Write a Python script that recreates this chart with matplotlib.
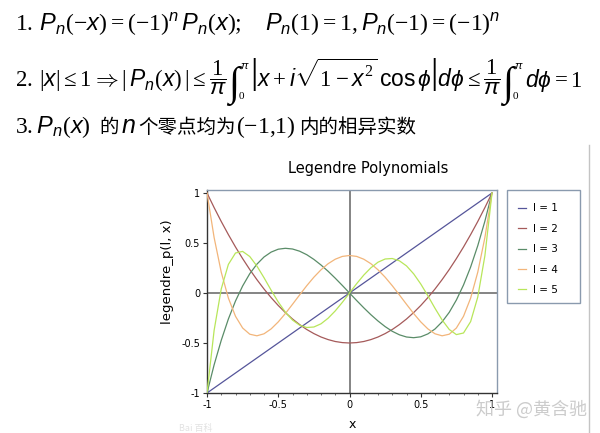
import matplotlib
matplotlib.use("Agg")
import matplotlib.pyplot as plt
from matplotlib.lines import Line2D
from matplotlib.patches import Rectangle

# значення (крок 0.05)
x_vals = [-1.0, -0.95, -0.9, -0.85, -0.8, -0.75, -0.7, -0.65, -0.6, -0.55, -0.5,
          -0.45, -0.4, -0.35, -0.3, -0.25, -0.2, -0.15, -0.1, -0.05, 0.0,
          0.05, 0.1, 0.15, 0.2, 0.25, 0.3, 0.35, 0.4, 0.45, 0.5,
          0.55, 0.6, 0.65, 0.7, 0.75, 0.8, 0.85, 0.9, 0.95, 1.0]
p1 = [-1.0, -0.95, -0.9, -0.85, -0.8, -0.75, -0.7, -0.65, -0.6, -0.55, -0.5,
      -0.45, -0.4, -0.35, -0.3, -0.25, -0.2, -0.15, -0.1, -0.05, 0.0,
      0.05, 0.1, 0.15, 0.2, 0.25, 0.3, 0.35, 0.4, 0.45, 0.5,
      0.55, 0.6, 0.65, 0.7, 0.75, 0.8, 0.85, 0.9, 0.95, 1.0]
p2 = [1.0, 0.854, 0.715, 0.584, 0.46, 0.344, 0.235, 0.134, 0.04, -0.046, -0.125,
      -0.196, -0.26, -0.316, -0.365, -0.406, -0.44, -0.466, -0.485, -0.496, -0.5,
      -0.496, -0.485, -0.466, -0.44, -0.406, -0.365, -0.316, -0.26, -0.196, -0.125,
      -0.046, 0.04, 0.134, 0.235, 0.344, 0.46, 0.584, 0.715, 0.854, 1.0]
p3 = [-1.0, -0.718, -0.473, -0.26, -0.08, 0.07, 0.193, 0.288, 0.36, 0.409, 0.438,
      0.447, 0.44, 0.418, 0.383, 0.336, 0.28, 0.217, 0.148, 0.075, 0.0,
      -0.075, -0.148, -0.217, -0.28, -0.336, -0.383, -0.418, -0.44, -0.447, -0.438,
      -0.409, -0.36, -0.288, -0.193, -0.07, 0.08, 0.26, 0.473, 0.718, 1.0]
p4 = [1.0, 0.554, 0.208, -0.051, -0.233, -0.35, -0.412, -0.428, -0.408, -0.359, -0.289,
      -0.205, -0.113, -0.019, 0.073, 0.158, 0.232, 0.293, 0.338, 0.366, 0.375,
      0.366, 0.338, 0.293, 0.232, 0.158, 0.073, -0.019, -0.113, -0.205, -0.289,
      -0.359, -0.408, -0.428, -0.412, -0.35, -0.233, -0.051, 0.208, 0.554, 1.0]
p5 = [-1.0, -0.373, 0.041, 0.286, 0.4, 0.416, 0.365, 0.27, 0.153, 0.028, -0.09,
      -0.192, -0.271, -0.322, -0.345, -0.34, -0.308, -0.252, -0.179, -0.093, 0.0,
      0.093, 0.179, 0.252, 0.308, 0.34, 0.345, 0.322, 0.271, 0.192, 0.09,
      -0.028, -0.153, -0.27, -0.365, -0.416, -0.4, -0.286, -0.041, 0.373, 1.0]

series_labels = ['l = 1', 'l = 2', 'l = 3', 'l = 4', 'l = 5']
series_colors = ['#55559a', '#a55a5a', '#5a8c68', '#f2b57a', '#b8e65a']
tick_vals = [-1, -0.5, 0, 0.5, 1]
tick_labels = ['-1', '-0.5', '0', '0.5', '1']

# шрифти для формул: цифри як Times, змінні як Arial italic
plt.rcParams['mathtext.fontset'] = 'custom'
plt.rcParams['mathtext.rm'] = 'Liberation Serif'
plt.rcParams['mathtext.it'] = 'Liberation Sans:italic'
plt.rcParams['mathtext.sf'] = 'Liberation Sans'
plt.rcParams['mathtext.bf'] = 'Liberation Sans:bold'

W, H = 600, 433
fig = plt.figure(figsize=(W / 100, H / 100), dpi=100)
fig.patch.set_facecolor('white')
cjk = ['Noto Sans CJK SC', 'DejaVu Sans']
serif = ['Liberation Serif', 'DejaVu Serif']


def put_row(pieces, x_px, base_px):
    # розставляємо шматки тексту один за одним по базовій лінії
    # (текст, розмір, шрифт, відступ після, зсув вниз, чи рухати x, зсув вправо)
    r = fig.canvas.get_renderer()
    x = x_px
    for s, size, fam, gap, dy, advance, dx in pieces:
        t = fig.text((x + dx) / W, 1 - (base_px + dy) / H, s, fontsize=size,
                     family=fam, va='baseline', ha='left', color='black')
        if advance:
            bb = t.get_window_extent(r)
            x = bb.x1 + gap


put_row([(r"$1.\,P_n(-x) = (-1)^n\, P_n(x);\quad P_n(1) = 1, P_n(-1) = (-1)^n$",
          17, cjk, 0, 0, True, 0)], 15, 31)

put_row([(r"$2.\,|x| \leq 1 \Rightarrow |\,P_n(x)\,| \leq \dfrac{1}{\pi}$", 16.5, cjk, 1, 0, True, 0),
         ("∫", 29, serif, 0, 8, True, 0),
         (r"$0$", 8, cjk, 0, 12, False, -1),
         (r"$\pi$", 8, cjk, 1, -18, True, 1),
         (r"$\left|x + i\sqrt{1-x^2}\,\mathsf{cos}\,\phi\right| d\phi \leq \dfrac{1}{\pi}$",
          16.5, cjk, 1, 0, True, 0),
         ("∫", 29, serif, 0, 8, True, 0),
         (r"$0$", 8, cjk, 0, 12, False, -1),
         (r"$\pi$", 8, cjk, 1, -18, True, 1),
         (r"$d\phi = 1$", 16.5, cjk, 0, 0, True, 0)], 15, 87)

put_row([(r"$3.P_n(x)$", 17, cjk, 9, 0, True, 0),
         ("的", 14, cjk, 2, 0, True, 0),
         (r"$n$", 18, cjk, 2, 0, True, 0),
         ("个零点均为", 14, cjk, 0, 0, True, 0),
         (r"$(-1{,}1)$", 17, cjk, 4, 0, True, 0),
         ("内的相异实数", 14, cjk, 0, 0, True, 0)], 15, 133)

# графік
ax = fig.add_axes([207 / W, 1 - 393 / H, 290 / W, 203 / H])
for ys, lab, col in zip([p1, p2, p3, p4, p5], series_labels, series_colors):
    ax.plot(x_vals, ys, color=col, lw=0.9, label=lab, zorder=3)
ax.axhline(0, color='#707070', lw=1.2, zorder=2)
ax.axvline(0, color='#707070', lw=1.2, zorder=2)
ax.set_xlim(-1, 1.035)
ax.set_ylim(-1, 1.03)
ax.set_xticks(tick_vals)
ax.set_xticklabels(tick_labels)
ax.set_yticks(tick_vals)
ax.set_yticklabels(tick_labels)
ax.set_xticks([-0.9, -0.8, -0.7, -0.6, -0.4, -0.3, -0.2, -0.1,
               0.1, 0.2, 0.3, 0.4, 0.6, 0.7, 0.8, 0.9], minor=True)
ax.tick_params(which='major', direction='out', length=3, width=0.8,
               labelsize=7, color='#333333', pad=2)
ax.tick_params(which='minor', direction='out', length=1.5, width=0.6, color='#555555')
ax.spines['left'].set_color('#333333')
ax.spines['bottom'].set_color('#333333')
ax.spines['top'].set_color('#8a9aae')
ax.spines['right'].set_color('#8a9aae')
for sp in ax.spines.values():
    sp.set_linewidth(1.0)

fig.text(368 / W, 1 - 169 / H, 'Legendre Polynomials', fontsize=10.5,
         ha='center', va='center', family='DejaVu Sans')
fig.text(167 / W, 1 - 272 / H, 'legendre_p(l, x)', fontsize=9.5, rotation=90,
         ha='center', va='center')
fig.text(352 / W, 1 - 425 / H, 'x', fontsize=9, ha='center', va='center')

# рамка легенди окремо, щоб збігався розмір
fig.add_artist(Rectangle((507 / W, 1 - 303 / H), 73 / W, 113 / H,
                         transform=fig.transFigure, facecolor='white',
                         edgecolor='#8a9aae', lw=1.0, zorder=1))
leg = fig.legend(loc='upper left', bbox_to_anchor=(507 / W, 1 - 192 / H),
                 fontsize=7.5, frameon=False, handlelength=0.7, handletextpad=0.7,
                 labelspacing=1.0, borderpad=1.1, borderaxespad=0)
leg.set_zorder(2)

# правий край вставленого зображення та водяні знаки
fig.add_artist(Line2D([589 / W, 589 / W], [0, 1 - 145 / H], color='#c4c4c4', lw=1.0))
fig.text(531 / W, 1 - 409 / H, '知乎 @黄含驰', fontsize=13, family=cjk,
         color='#cccccc', ha='center', va='center')
fig.text(196 / W, 1 - 428 / H, 'Bai 百科', fontsize=6.5, family=cjk,
         color='#e2e2e2', ha='center', va='center')

fig.savefig('out.png', dpi=100)
